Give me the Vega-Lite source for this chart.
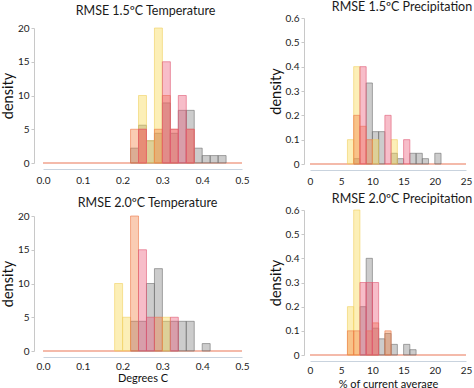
{
  "$schema": "https://vega.github.io/schema/vega-lite/v6.json",
  "background": "white",
  "padding": {"left": 0, "top": -1, "right": 0, "bottom": 0},
  "data": {"values": [
    {"p":"T15","s":"base","x0":0,"x1":0.5,"d":0},
    {"p":"T15","s":"gray","x0":0.22,"x1":0.24,"d":2.2},
    {"p":"T15","s":"gray","x0":0.24,"x1":0.26,"d":5.6},
    {"p":"T15","s":"gray","x0":0.26,"x1":0.28,"d":3.3},
    {"p":"T15","s":"gray","x0":0.28,"x1":0.30,"d":4.4},
    {"p":"T15","s":"gray","x0":0.30,"x1":0.32,"d":8.9},
    {"p":"T15","s":"gray","x0":0.32,"x1":0.34,"d":4.4},
    {"p":"T15","s":"gray","x0":0.34,"x1":0.36,"d":7.8},
    {"p":"T15","s":"gray","x0":0.36,"x1":0.38,"d":7.8},
    {"p":"T15","s":"gray","x0":0.38,"x1":0.40,"d":2.2},
    {"p":"T15","s":"gray","x0":0.40,"x1":0.42,"d":1.1},
    {"p":"T15","s":"gray","x0":0.42,"x1":0.44,"d":1.1},
    {"p":"T15","s":"gray","x0":0.44,"x1":0.46,"d":1.1},
    {"p":"T15","s":"yellow","x0":0.24,"x1":0.26,"d":10},
    {"p":"T15","s":"yellow","x0":0.26,"x1":0.28,"d":3.3},
    {"p":"T15","s":"yellow","x0":0.28,"x1":0.30,"d":20},
    {"p":"T15","s":"orange","x0":0.22,"x1":0.24,"d":5},
    {"p":"T15","s":"orange","x0":0.24,"x1":0.26,"d":5},
    {"p":"T15","s":"orange","x0":0.28,"x1":0.30,"d":5},
    {"p":"T15","s":"orange","x0":0.30,"x1":0.32,"d":10},
    {"p":"T15","s":"orange","x0":0.32,"x1":0.34,"d":5},
    {"p":"T15","s":"orange","x0":0.36,"x1":0.38,"d":5},
    {"p":"T15","s":"pink","x0":0.24,"x1":0.26,"d":5},
    {"p":"T15","s":"pink","x0":0.30,"x1":0.32,"d":15},
    {"p":"T15","s":"pink","x0":0.32,"x1":0.34,"d":5},
    {"p":"T15","s":"pink","x0":0.34,"x1":0.36,"d":10},
    {"p":"T15","s":"pink","x0":0.36,"x1":0.38,"d":5},

    {"p":"T20","s":"base","x0":0,"x1":0.5,"d":0},
    {"p":"T20","s":"gray","x0":0.22,"x1":0.24,"d":4.4},
    {"p":"T20","s":"gray","x0":0.24,"x1":0.26,"d":4.4},
    {"p":"T20","s":"gray","x0":0.26,"x1":0.28,"d":10},
    {"p":"T20","s":"gray","x0":0.28,"x1":0.30,"d":12.2},
    {"p":"T20","s":"gray","x0":0.30,"x1":0.32,"d":4.4},
    {"p":"T20","s":"gray","x0":0.32,"x1":0.34,"d":4.4},
    {"p":"T20","s":"gray","x0":0.34,"x1":0.36,"d":4.4},
    {"p":"T20","s":"gray","x0":0.36,"x1":0.38,"d":4.4},
    {"p":"T20","s":"gray","x0":0.40,"x1":0.42,"d":1.1},
    {"p":"T20","s":"yellow","x0":0.18,"x1":0.20,"d":10},
    {"p":"T20","s":"yellow","x0":0.20,"x1":0.22,"d":5},
    {"p":"T20","s":"yellow","x0":0.30,"x1":0.32,"d":5},
    {"p":"T20","s":"orange","x0":0.22,"x1":0.24,"d":20},
    {"p":"T20","s":"orange","x0":0.28,"x1":0.30,"d":5},
    {"p":"T20","s":"pink","x0":0.24,"x1":0.26,"d":15},
    {"p":"T20","s":"pink","x0":0.26,"x1":0.28,"d":5},
    {"p":"T20","s":"pink","x0":0.32,"x1":0.34,"d":5},

    {"p":"P15","s":"base","x0":0,"x1":25,"d":0},
    {"p":"P15","s":"gray","x0":7,"x1":8,"d":0.022},
    {"p":"P15","s":"gray","x0":9,"x1":10,"d":0.333},
    {"p":"P15","s":"gray","x0":10,"x1":11,"d":0.133},
    {"p":"P15","s":"gray","x0":11,"x1":12,"d":0.133},
    {"p":"P15","s":"gray","x0":13,"x1":14,"d":0.044},
    {"p":"P15","s":"gray","x0":14,"x1":15,"d":0.022},
    {"p":"P15","s":"gray","x0":16,"x1":17,"d":0.044},
    {"p":"P15","s":"gray","x0":17,"x1":18,"d":0.044},
    {"p":"P15","s":"gray","x0":18,"x1":19,"d":0.022},
    {"p":"P15","s":"gray","x0":20,"x1":21,"d":0.044},
    {"p":"P15","s":"yellow","x0":6,"x1":7,"d":0.1},
    {"p":"P15","s":"yellow","x0":7,"x1":8,"d":0.4},
    {"p":"P15","s":"yellow","x0":10,"x1":11,"d":0.1},
    {"p":"P15","s":"yellow","x0":13,"x1":14,"d":0.1},
    {"p":"P15","s":"orange","x0":7,"x1":8,"d":0.2},
    {"p":"P15","s":"orange","x0":8,"x1":9,"d":0.155},
    {"p":"P15","s":"orange","x0":9,"x1":10,"d":0.1},
    {"p":"P15","s":"pink","x0":8,"x1":9,"d":0.4},
    {"p":"P15","s":"pink","x0":12,"x1":13,"d":0.2},
    {"p":"P15","s":"pink","x0":15,"x1":16,"d":0.1},

    {"p":"P20","s":"base","x0":0,"x1":25,"d":0},
    {"p":"P20","s":"gray","x0":8,"x1":9,"d":0.2},
    {"p":"P20","s":"gray","x0":9,"x1":10,"d":0.4},
    {"p":"P20","s":"gray","x0":10,"x1":11,"d":0.111},
    {"p":"P20","s":"gray","x0":11,"x1":12,"d":0.067},
    {"p":"P20","s":"gray","x0":12,"x1":13,"d":0.089},
    {"p":"P20","s":"gray","x0":13,"x1":14,"d":0.044},
    {"p":"P20","s":"gray","x0":15,"x1":16,"d":0.044},
    {"p":"P20","s":"gray","x0":16,"x1":17,"d":0.022},
    {"p":"P20","s":"yellow","x0":6,"x1":7,"d":0.2},
    {"p":"P20","s":"yellow","x0":7,"x1":8,"d":0.6},
    {"p":"P20","s":"orange","x0":6,"x1":7,"d":0.1},
    {"p":"P20","s":"orange","x0":7,"x1":8,"d":0.1},
    {"p":"P20","s":"orange","x0":9,"x1":10,"d":0.1},
    {"p":"P20","s":"orange","x0":10,"x1":11,"d":0.133},
    {"p":"P20","s":"orange","x0":12,"x1":13,"d":0.1},
    {"p":"P20","s":"pink","x0":8,"x1":9,"d":0.3},
    {"p":"P20","s":"pink","x0":9,"x1":10,"d":0.3},
    {"p":"P20","s":"pink","x0":10,"x1":11,"d":0.3}
  ]},
  "config": {
    "view": {"stroke": null},
    "font": "Lato",
    "title": {"fontSize": 12.5, "fontWeight": "normal", "color": "#1a1a1a", "font": "Lato", "frame": "group"},
    "axis": {"grid": false, "labelFont": "Lato", "labelFontSize": 10, "labelColor": "#222", "labelFlush": false, "titleFont": "Lato", "titleFontWeight": "normal", "titleColor": "#111", "domainColor": "#c8c8c8", "tickColor": "#c8c8c8", "tickSize": 3, "labelPadding": 2},
    "axisX": {"ticks": false, "labelPadding": 6, "domainColor": "#c9d3de", "offset": 6, "titleFontSize": 11, "titlePadding": 2},
    "axisY": {"titleFontSize": 14.5, "titlePadding": 2}
  },
  "columns": 2,
  "align": "none",
  "bounds": "full",
  "spacing": {"row": 0, "column": 19},
  "concat": [
    {"width": 1, "height": 1, "data": {"values": [{"a": 0}]}, "mark": {"type": "point", "opacity": 0, "size": 1}, "encoding": {}},
    {"width": 1, "height": 1, "data": {"values": [{"a": 0}]}, "mark": {"type": "point", "opacity": 0, "size": 1}, "encoding": {}},
    {
      "width": 199, "height": 135,
      "title": {"text": ["", "RMSE 1.5ºC Temperature"], "lineHeight": 4, "dx": 3, "offset": 6},
      "transform": [{"filter": "datum.p == 'T15'"}],
      "encoding": {
        "x": {"field": "x0", "type": "quantitative", "scale": {"domain": [0, 0.5], "nice": false, "zero": false}, "axis": {"values": [0, 0.1, 0.2, 0.3, 0.4, 0.5], "format": ".1f", "title": null}},
        "x2": {"field": "x1"},
        "y": {"field": "d", "type": "quantitative", "scale": {"domain": [0, 20], "nice": false}, "axis": {"values": [0, 5, 10, 15, 20], "title": "density", "offset": 9}}
      },
      "layer": [
        {"transform": [{"filter": "datum.s == 'base'"}], "mark": {"type": "rule", "color": "#f0a38e", "strokeWidth": 1.5}},
        {"transform": [{"filter": "datum.s != 'base'"}], "mark": {"type": "bar", "fillOpacity": 0.4, "strokeOpacity": 0.6, "strokeWidth": 1},
         "encoding": {
           "y2": {"datum": 0},
           "color": {"field": "s", "type": "nominal", "legend": null, "scale": {"domain": ["yellow", "orange", "pink", "gray"], "range": ["#f8d84c", "#f28040", "#ea5a78", "#808080"]}},
           "stroke": {"field": "s", "type": "nominal", "legend": null, "scale": {"domain": ["yellow", "orange", "pink", "gray"], "range": ["#f0d060", "#ec7a4a", "#e05a75", "#707070"]}}
         }}
      ]
    },
    {
      "width": 156, "height": 146,
      "title": {"text": "RMSE 1.5ºC Precipitation", "dx": 14, "offset": 0},
      "transform": [{"filter": "datum.p == 'P15'"}],
      "encoding": {
        "x": {"field": "x0", "type": "quantitative", "scale": {"domain": [0, 25], "nice": false, "zero": false}, "axis": {"values": [0, 5, 10, 15, 20, 25], "title": null}},
        "x2": {"field": "x1"},
        "y": {"field": "d", "type": "quantitative", "scale": {"domain": [0, 0.6], "nice": false}, "axis": {"values": [0, 0.1, 0.2, 0.3, 0.4, 0.5, 0.6], "labelExpr": "datum.value == 0 ? '0' : format(datum.value, '.1f')", "title": "density", "offset": 6}}
      },
      "layer": [
        {"transform": [{"filter": "datum.s == 'base'"}], "mark": {"type": "rule", "color": "#f0a38e", "strokeWidth": 1.5}},
        {"transform": [{"filter": "datum.s != 'base'"}], "mark": {"type": "bar", "fillOpacity": 0.4, "strokeOpacity": 0.6, "strokeWidth": 1},
         "encoding": {
           "y2": {"datum": 0},
           "color": {"field": "s", "type": "nominal", "legend": null, "scale": {"domain": ["yellow", "orange", "pink", "gray"], "range": ["#f8d84c", "#f28040", "#ea5a78", "#808080"]}},
           "stroke": {"field": "s", "type": "nominal", "legend": null, "scale": {"domain": ["yellow", "orange", "pink", "gray"], "range": ["#f0d060", "#ec7a4a", "#e05a75", "#707070"]}}
         }}
      ]
    },
    {
      "width": 199, "height": 135,
      "title": {"text": "RMSE 2.0ºC Temperature", "dx": 5, "offset": 2},
      "transform": [{"filter": "datum.p == 'T20'"}],
      "encoding": {
        "x": {"field": "x0", "type": "quantitative", "scale": {"domain": [0, 0.5], "nice": false, "zero": false}, "axis": {"values": [0, 0.1, 0.2, 0.3, 0.4, 0.5], "format": ".1f", "title": "Degrees C", "labelPadding": 4, "titlePadding": 1}},
        "x2": {"field": "x1"},
        "y": {"field": "d", "type": "quantitative", "scale": {"domain": [0, 20], "nice": false}, "axis": {"values": [0, 5, 10, 15, 20], "title": "density", "offset": 9}}
      },
      "layer": [
        {"transform": [{"filter": "datum.s == 'base'"}], "mark": {"type": "rule", "color": "#f0a38e", "strokeWidth": 1.5}},
        {"transform": [{"filter": "datum.s != 'base'"}], "mark": {"type": "bar", "fillOpacity": 0.4, "strokeOpacity": 0.6, "strokeWidth": 1},
         "encoding": {
           "y2": {"datum": 0},
           "color": {"field": "s", "type": "nominal", "legend": null, "scale": {"domain": ["yellow", "orange", "pink", "gray"], "range": ["#f8d84c", "#f28040", "#ea5a78", "#808080"]}},
           "stroke": {"field": "s", "type": "nominal", "legend": null, "scale": {"domain": ["yellow", "orange", "pink", "gray"], "range": ["#f0d060", "#ec7a4a", "#e05a75", "#707070"]}}
         }}
      ]
    },
    {
      "width": 156, "height": 145,
      "title": {"text": ["", "RMSE 2.0ºC Precipitation"], "lineHeight": 6, "dx": 14, "offset": 0},
      "transform": [{"filter": "datum.p == 'P20'"}],
      "encoding": {
        "x": {"field": "x0", "type": "quantitative", "scale": {"domain": [0, 25], "nice": false, "zero": false}, "axis": {"values": [0, 5, 10, 15, 20, 25], "title": "% of current average", "titleFontSize": 11, "labelPadding": 4, "titlePadding": 3}},
        "x2": {"field": "x1"},
        "y": {"field": "d", "type": "quantitative", "scale": {"domain": [0, 0.6], "nice": false}, "axis": {"values": [0, 0.1, 0.2, 0.3, 0.4, 0.5, 0.6], "labelExpr": "datum.value == 0 ? '0' : format(datum.value, '.1f')", "title": "density", "offset": 6}}
      },
      "layer": [
        {"transform": [{"filter": "datum.s == 'base'"}], "mark": {"type": "rule", "color": "#f0a38e", "strokeWidth": 1.5}},
        {"transform": [{"filter": "datum.s != 'base'"}], "mark": {"type": "bar", "fillOpacity": 0.4, "strokeOpacity": 0.6, "strokeWidth": 1},
         "encoding": {
           "y2": {"datum": 0},
           "color": {"field": "s", "type": "nominal", "legend": null, "scale": {"domain": ["yellow", "orange", "pink", "gray"], "range": ["#f8d84c", "#f28040", "#ea5a78", "#808080"]}},
           "stroke": {"field": "s", "type": "nominal", "legend": null, "scale": {"domain": ["yellow", "orange", "pink", "gray"], "range": ["#f0d060", "#ec7a4a", "#e05a75", "#707070"]}}
         }}
      ]
    }
  ]
}
